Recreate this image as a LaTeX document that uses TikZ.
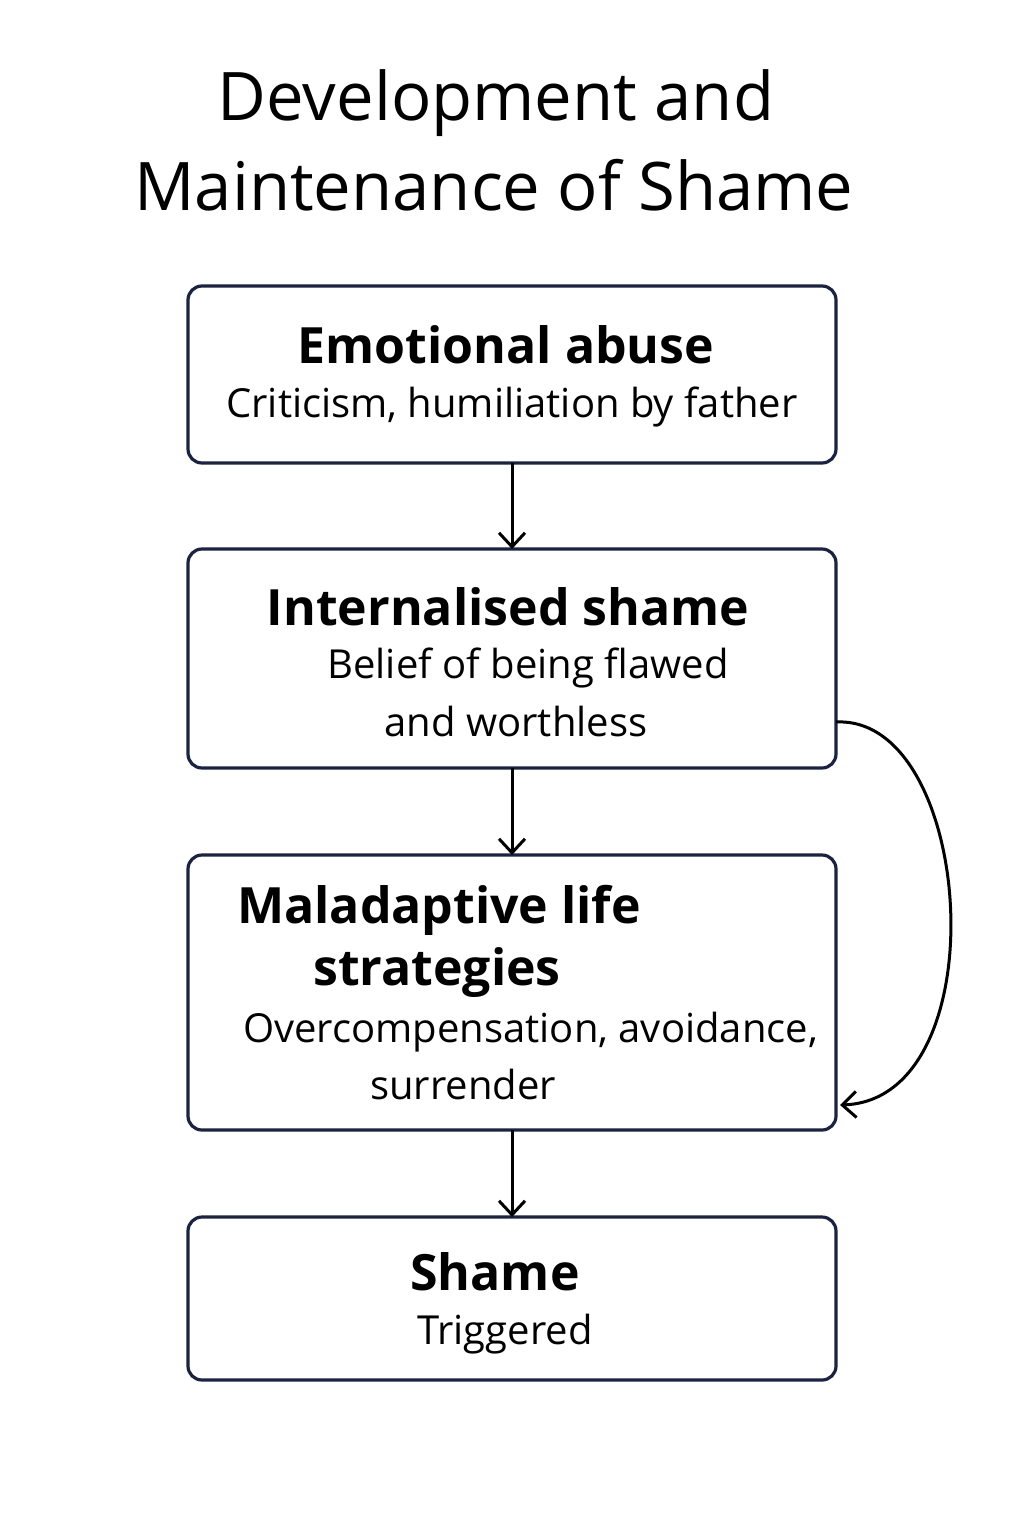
\documentclass[tikz,border=0pt]{standalone}
\usepackage{fontspec}
\setmainfont{Open Sans}
\usetikzlibrary{arrows.meta}
\begin{document}
\begin{tikzpicture}[x=1pt,y=-1pt,
  box/.style={draw=navy,line width=3.2pt,rounded corners=14pt},
  head/.style={font=\fontsize{50}{56}\selectfont\bfseries,inner sep=0},
  sub/.style={font=\fontsize{40}{46}\selectfont,inner sep=0},
  arr/.style={line width=3pt,-{Straight Barb[length=14pt,width=26pt,line width=3pt]}}]
\definecolor{navy}{HTML}{1B2340}
\useasboundingbox (0,0) rectangle (1024,1536);
\fill[white] (0,0) rectangle (1024,1536);
\node[font=\fontsize{67}{72}\selectfont,inner sep=0] (t1) at (496,103) {Development and};
\node[font=\fontsize{67}{72}\selectfont,inner sep=0] (t2) at (494,185) {Maintenance of Shame};
\draw[box] (188,286) rectangle (836,463);
\coordinate (b1s) at (512,463);
\node[head] (h1) at (506,345) {Emotional abuse};
\node[sub] (s1) at (512,407) {Criticism, humiliation by father};
\draw[box] (188,549) rectangle (836,768);
\coordinate (b2n) at (512,549); \coordinate (b2s) at (512,768); \coordinate (b2e) at (836,722);
\node[head] (h2) at (508,607) {Internalised shame};
\node[sub] (s2a) at (528,668) {Belief of being flawed};
\node[sub] (s2b) at (516,721) {and worthless};
\draw[box] (188,855) rectangle (836,1130);
\coordinate (b3n) at (512,855); \coordinate (b3s) at (512,1130); \coordinate (b3e) at (840,1105);
\node[head,anchor=west] (h3a) at (237,910) {Maladaptive life};
\node[head] (h3b) at (437,973) {strategies};
\node[sub,anchor=west] (s3a) at (243,1032) {Overcompensation, avoidance,};
\node[sub] (s3b) at (463,1084) {surrender};
\draw[box] (188,1217) rectangle (836,1380);
\coordinate (b4n) at (512,1217);
\node[head] (h4) at (495,1272) {Shame};
\node[sub] (s4) at (505,1334) {Triggered};
\draw[arr] (b1s) -- (b2n);
\draw[arr] (b2s) -- (b3n);
\draw[arr] (b3s) -- (b4n);
\draw[arr] (b2e) .. controls (975,715) and (1000,1100) .. (b3e);
\end{tikzpicture}
\end{document}
